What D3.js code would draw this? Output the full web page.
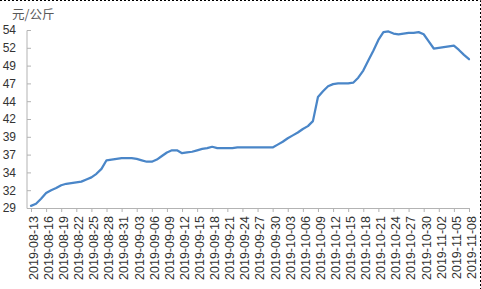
<!DOCTYPE html>
<html>
<head>
<meta charset="utf-8">
<script src="https://cdn.jsdelivr.net/npm/d3@7"></script>
<style>
  body { margin: 0; background: #fff; }
  svg { display: block; }
</style>
</head>
<body>
<svg></svg>
<script>
// daily prices, 2019-08-13 .. 2019-11-08
var startDate = "2019-08-13";
var prices = [
  29.3, 29.6, 30.3, 31.1, 31.5, 31.8, 32.2, 32.4, 32.5, 32.6,
  32.7, 33.0, 33.3, 33.8, 34.5, 35.7, 35.8, 35.9, 36.0, 36.0,
  36.0, 35.9, 35.7, 35.5, 35.5, 35.8, 36.3, 36.8, 37.1, 37.1,
  36.7, 36.8, 36.9, 37.1, 37.3, 37.4, 37.6, 37.4, 37.4, 37.4,
  37.4, 37.5, 37.5, 37.5, 37.5, 37.5, 37.5, 37.5, 37.5, 37.9,
  38.3, 38.8, 39.2, 39.6, 40.1, 40.5, 41.2, 44.6, 45.4, 46.1,
  46.4, 46.5, 46.5, 46.5, 46.6, 47.3, 48.3, 49.7, 51.1, 52.6,
  53.7, 53.8, 53.5, 53.4, 53.5, 53.6, 53.6, 53.7, 53.4, 52.4,
  51.4, 51.5, 51.6, 51.7, 51.8, 51.2, 50.5, 49.9
];
var yTicks = [29, 31.5, 34, 36.5, 39, 41.5, 44, 46.5, 49, 51.5, 54];
var unitLabel = "元/公斤";

var fmt = d3.utcFormat("%Y-%m-%d");
var t0 = d3.utcParse("%Y-%m-%d")(startDate);
var dates = prices.map(function(d, i) { return fmt(d3.utcDay.offset(t0, i)); });
var tickDates = dates.filter(function(d, i) { return i % 3 == 0; });

var width = 481, height = 289;
var svg = d3.select("svg").attr("width", width).attr("height", height);

var x = d3.scalePoint().domain(dates).range([31, 469]);
var y = d3.scaleLinear().domain([29, 54]).range([208, 30]);

var axisColor = "#b3b3b3";
var font = "'Liberation Sans', Arial, sans-serif";

// y axis
var yAxis = svg.append("g")
    .attr("transform", "translate(31,0)")
    .call(d3.axisLeft(y).tickValues(yTicks).tickSize(4).tickPadding(11)
      .tickFormat(function(d) { return Math.round(d); }));
yAxis.selectAll("path, line").attr("stroke", axisColor);
yAxis.select(".domain").attr("d", "M-4,30.5V208.5");
yAxis.selectAll("text")
    .attr("font-family", font)
    .attr("font-size", "12px")
    .attr("fill", "#333");

// x axis
var xAxis = svg.append("g")
    .attr("transform", "translate(0,208)")
    .call(d3.axisBottom(x).tickValues(tickDates).tickSize(4).tickSizeOuter(0));
xAxis.selectAll("path, line").attr("stroke", axisColor);
xAxis.selectAll("text")
    .attr("font-family", font)
    .attr("font-size", "12.5px")
    .attr("fill", "#333")
    .attr("text-anchor", "end")
    .attr("transform", "translate(2,0) rotate(-90)")
    .attr("x", -8)
    .attr("y", 0)
    .attr("dy", "0.35em");

// line
var line = d3.line()
    .x(function(d, i) { return x(dates[i]); })
    .y(function(d) { return y(d); });

svg.append("path")
    .datum(prices)
    .attr("d", line)
    .attr("fill", "none")
    .attr("stroke", "#4a86c8")
    .attr("stroke-width", 2.25)
    .attr("stroke-linejoin", "round")
    .attr("stroke-linecap", "round");

// unit label
svg.append("text")
    .attr("x", 12)
    .attr("y", 19)
    .attr("font-family", "'Noto Sans CJK SC', sans-serif")
    .attr("font-size", "12.5px")
    .attr("fill", "#595959")
    .text(unitLabel);

// dotted frame (top and right)
svg.append("path")
    .attr("d", "M0,0.5H480.5V289")
    .attr("fill", "none")
    .attr("stroke", "#000")
    .attr("stroke-dasharray", "2,2");
</script>
</body>
</html>
